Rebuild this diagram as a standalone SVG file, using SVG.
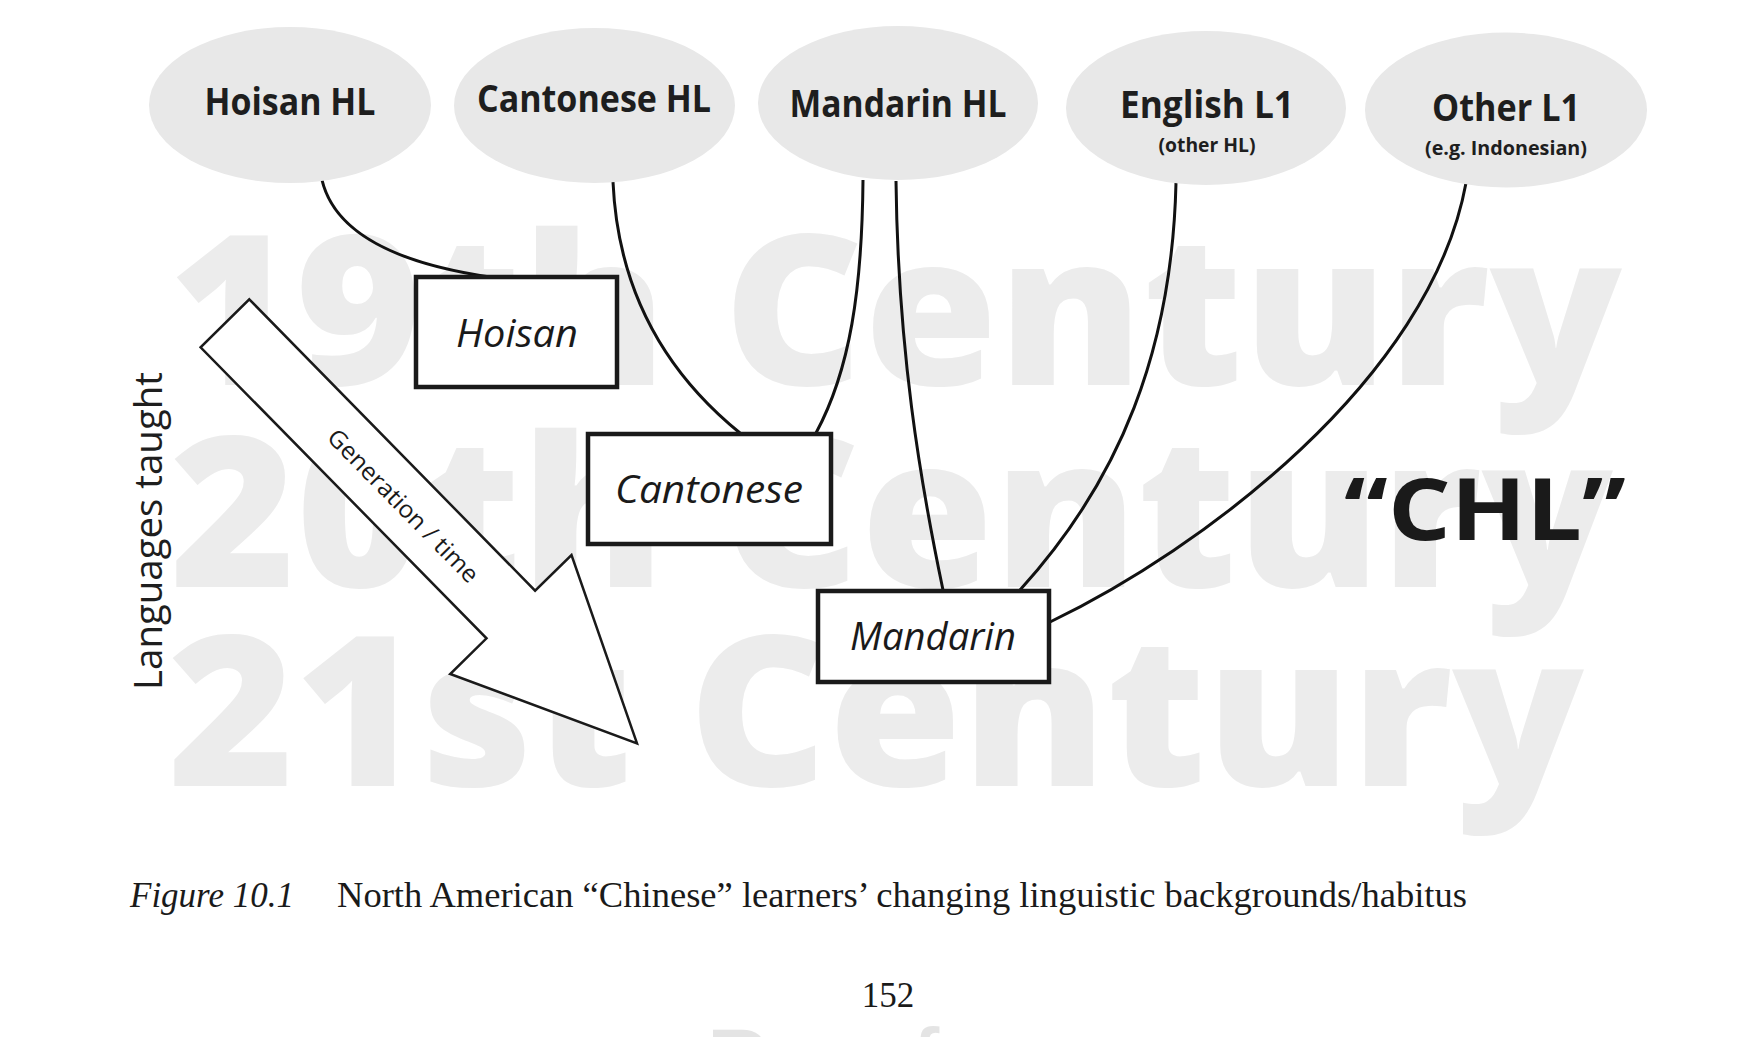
<svg xmlns="http://www.w3.org/2000/svg" width="1743" height="1037" viewBox="0 0 1743 1037">
<style>
.bg{font-family:"Open Sans","Noto Sans",sans-serif;font-weight:800;font-size:210px;fill:#ececec}
.ell{fill:#e8e8e8;stroke:none}
.hl{font-family:"Open Sans","Noto Sans",sans-serif;font-weight:700;font-size:37px;fill:#1e1e1e;text-anchor:middle}
.sub{font-family:"Open Sans","Noto Sans",sans-serif;font-weight:700;font-size:20px;fill:#1e1e1e;text-anchor:middle}
.box{fill:#fff;stroke:#1a1a1a;stroke-width:4.5}
.bt{font-family:"Open Sans","Noto Sans",sans-serif;font-style:italic;font-size:38px;fill:#1a1a1a;text-anchor:middle}
.conn path{fill:none;stroke:#111;stroke-width:3}
.cap{font-family:"Liberation Serif","Times New Roman",serif;font-size:35px;fill:#1a1a1a}
</style>
<rect width="1743" height="1037" fill="#fff"/>
<g id="background-eras">
<text class="bg" x="168" y="385" textLength="1454" lengthAdjust="spacingAndGlyphs">19th Century</text>
<text class="bg" x="170" y="587" textLength="1443" lengthAdjust="spacingAndGlyphs">20th Century</text>
<text class="bg" x="168" y="786" textLength="1416" lengthAdjust="spacingAndGlyphs">21st Century</text>
</g>
<g id="connectors" class="conn">
<path d="M322,180 Q340,255 490,277"/>
<path d="M613,182 C617,270 650,360 740,433"/>
<path d="M863,180 C862,290 850,370 816,433"/>
<path d="M896,181 C898,350 920,480 943,590"/>
<path d="M1176,183 C1172,350 1120,480 1020,590"/>
<path d="M1466,183 C1430,380 1200,550 1050,622"/>
</g>
<g id="node-hoisan-hl">
<ellipse class="ell" cx="290" cy="105" rx="141" ry="78"/>
<text class="hl" x="290" y="115" textLength="171" lengthAdjust="spacingAndGlyphs">Hoisan HL</text>
</g>
<g id="node-cantonese-hl">
<ellipse class="ell" cx="594.5" cy="105.5" rx="140.5" ry="77.5"/>
<text class="hl" x="594" y="112" textLength="234" lengthAdjust="spacingAndGlyphs">Cantonese HL</text>
</g>
<g id="node-mandarin-hl">
<ellipse class="ell" cx="898" cy="103" rx="140" ry="77"/>
<text class="hl" x="898" y="117" textLength="217" lengthAdjust="spacingAndGlyphs">Mandarin HL</text>
</g>
<g id="node-english-l1">
<ellipse class="ell" cx="1206" cy="108" rx="140" ry="77"/>
<text class="hl" x="1207" y="118" textLength="174" lengthAdjust="spacingAndGlyphs">English L1</text>
<text class="sub" x="1207" y="152" textLength="97" lengthAdjust="spacingAndGlyphs">(other HL)</text>
</g>
<g id="node-other-l1">
<ellipse class="ell" cx="1506" cy="110" rx="141" ry="77.5"/>
<text class="hl" x="1506" y="121" textLength="148" lengthAdjust="spacingAndGlyphs">Other L1</text>
<text class="sub" x="1506" y="155" textLength="162" lengthAdjust="spacingAndGlyphs">(e.g. Indonesian)</text>
</g>
<g id="node-hoisan">
<rect class="box" x="416" y="277" width="201" height="110"/>
<text class="bt" x="517" y="347" textLength="122" lengthAdjust="spacingAndGlyphs">Hoisan</text>
</g>
<g id="node-cantonese">
<rect class="box" x="588" y="434" width="243" height="110"/>
<text class="bt" x="709" y="503" textLength="188" lengthAdjust="spacingAndGlyphs">Cantonese</text>
</g>
<g id="node-mandarin">
<rect class="box" x="818" y="591" width="231" height="91"/>
<text class="bt" x="933" y="650" textLength="166" lengthAdjust="spacingAndGlyphs">Mandarin</text>
</g>
<g id="time-arrow">
<polygon points="249.3,299.3 535.1,590.7 571.5,555 637,743.3 450.2,674 486.5,638.3 200.6,347.3" fill="#fff" stroke="#1a1a1a" stroke-width="2.5" stroke-linejoin="miter"/>
<text transform="translate(403,506) rotate(45.55)" x="0" y="8" font-family="Open Sans, Noto Sans, sans-serif" font-size="24" fill="#1a1a1a" text-anchor="middle" textLength="204" lengthAdjust="spacingAndGlyphs">Generation / time</text>
</g>
<g id="axis-label">
<text transform="translate(162,531) rotate(-90)" x="0" y="0" font-family="Open Sans, Noto Sans, sans-serif" font-size="38" fill="#1e1e1e" text-anchor="middle" textLength="318" lengthAdjust="spacingAndGlyphs">Languages taught</text>
</g>
<g id="chl-label">
<text x="1485" y="540" font-family="Open Sans, Noto Sans, sans-serif" font-weight="700" font-size="86" fill="#1a1a1a" text-anchor="middle" textLength="282" lengthAdjust="spacingAndGlyphs">“CHL”</text>
</g>
<g id="caption">
<text class="cap" x="130" y="907"><tspan font-style="italic" textLength="164" lengthAdjust="spacingAndGlyphs">Figure 10.1</tspan></text>
<text class="cap" x="337" y="907" textLength="1130" lengthAdjust="spacingAndGlyphs">North American “Chinese” learners’ changing linguistic backgrounds/habitus</text>
<text class="cap" x="888" y="1007" text-anchor="middle">152</text>
</g>
<g id="watermark">
<text x="705" y="1097" font-family="Liberation Sans, Arial, sans-serif" font-size="98" fill="#e4e4e4">Proof</text>
</g>
</svg>
